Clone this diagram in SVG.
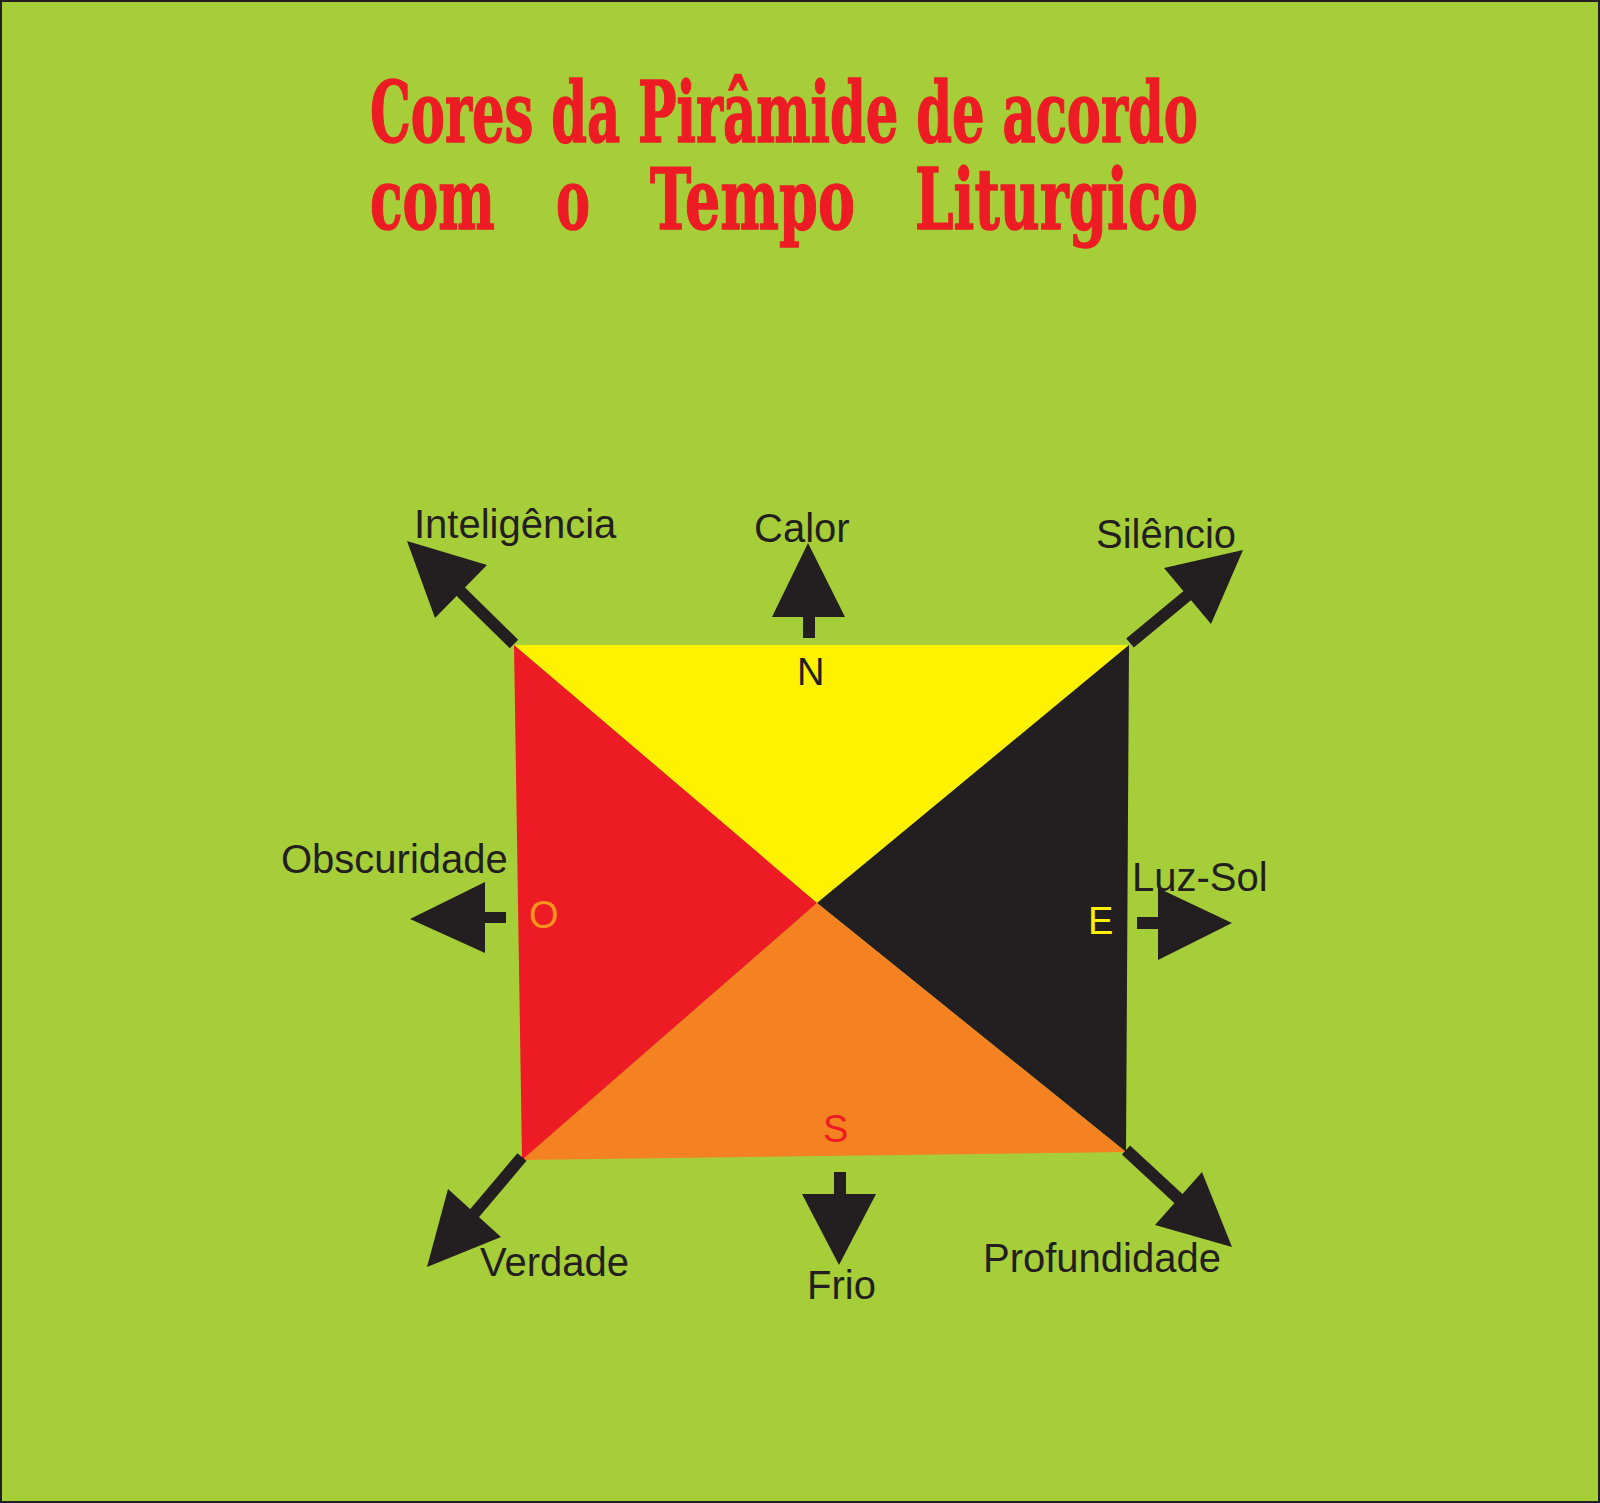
<svg xmlns="http://www.w3.org/2000/svg" width="1600" height="1503" viewBox="0 0 1600 1503">
<style>
.title{font-family:"DejaVu Serif","Liberation Serif",serif;font-weight:bold;font-size:84px;fill:#ED1C24;stroke:#ED1C24;stroke-width:1.5}
.lbl{font-family:"Liberation Sans",Arial,sans-serif;font-size:40px;fill:#231F20}
.dir{font-family:"Liberation Sans",Arial,sans-serif;font-size:38px}
.shaft{stroke:#231F20;stroke-width:12;fill:none}
.head{fill:#231F20}
</style>
<rect x="1" y="1" width="1598" height="1501" fill="#A6CE39" stroke="#231F20" stroke-width="2"/>
<g id="title">
<text class="title" x="370" y="142" textLength="828" lengthAdjust="spacingAndGlyphs">Cores da Pirâmide de acordo</text>
<text class="title" y="229"><tspan x="370" textLength="125" lengthAdjust="spacingAndGlyphs">com</tspan><tspan x="556" textLength="34" lengthAdjust="spacingAndGlyphs">o</tspan><tspan x="650" textLength="205" lengthAdjust="spacingAndGlyphs">Tempo</tspan><tspan x="915" textLength="283" lengthAdjust="spacingAndGlyphs">Liturgico</tspan></text>
</g>
<g id="pyramid">
<polygon id="face-north" points="514,645 1129,645 817,903" fill="#FFF200"/>
<polygon id="face-east" points="1129,645 1126,1152 817,903" fill="#231F20"/>
<polygon id="face-south" points="1126,1152 522,1160 817,903" fill="#F58220"/>
<polygon id="face-west" points="522,1160 514,645 817,903" fill="#ED1C24"/>
</g>
<g id="dir-N"><text class="dir" x="797" y="685" fill="#231F20">N</text></g>
<g id="dir-O"><text class="dir" x="529" y="928" fill="#F7941D" font-size="40">O</text></g>
<g id="dir-E"><text class="dir" x="1088" y="934" fill="#FFF200">E</text></g>
<g id="dir-S"><text class="dir" x="823" y="1142" fill="#ED1C24">S</text></g>
<g id="connectors">
<line class="shaft" x1="514" y1="644" x2="459" y2="590"/>
<polygon class="head" points="407,541 435,618 487,565"/>
<line class="shaft" x1="809" y1="638" x2="809" y2="615"/>
<polygon class="head" points="808,543 772,617 845,617"/>
<line class="shaft" x1="1130" y1="643" x2="1188" y2="595"/>
<polygon class="head" points="1243,550 1164,568 1211,624"/>
<line class="shaft" x1="506" y1="917.5" x2="483" y2="917.5" style="stroke-width:11"/>
<polygon class="head" points="410,919 485,882 485,953"/>
<line class="shaft" x1="1137" y1="923" x2="1160" y2="923"/>
<polygon class="head" points="1232,923 1158,888 1158,960"/>
<line class="shaft" x1="522" y1="1157" x2="473" y2="1215"/>
<polygon class="head" points="427,1267 448,1189 501,1237"/>
<line class="shaft" x1="840" y1="1172" x2="840" y2="1196"/>
<polygon class="head" points="839,1265 802,1194 876,1194"/>
<line class="shaft" x1="1126" y1="1150" x2="1180" y2="1200"/>
<polygon class="head" points="1232,1247 1155,1225 1202,1172"/>
</g>
<g id="label-inteligencia"><text class="lbl" x="414" y="538">Inteligência</text></g>
<g id="label-calor"><text class="lbl" x="754" y="542" font-size="44">Calor</text></g>
<g id="label-silencio"><text class="lbl" x="1096" y="548">Silêncio</text></g>
<g id="label-obscuridade"><text class="lbl" x="281" y="873">Obscuridade</text></g>
<g id="label-luzsol"><text class="lbl" x="1132" y="891">Luz-Sol</text></g>
<g id="label-verdade"><text class="lbl" x="480" y="1276">Verdade</text></g>
<g id="label-frio"><text class="lbl" x="807" y="1299">Frio</text></g>
<g id="label-profundidade"><text class="lbl" x="983" y="1272">Profundidade</text></g>
</svg>
